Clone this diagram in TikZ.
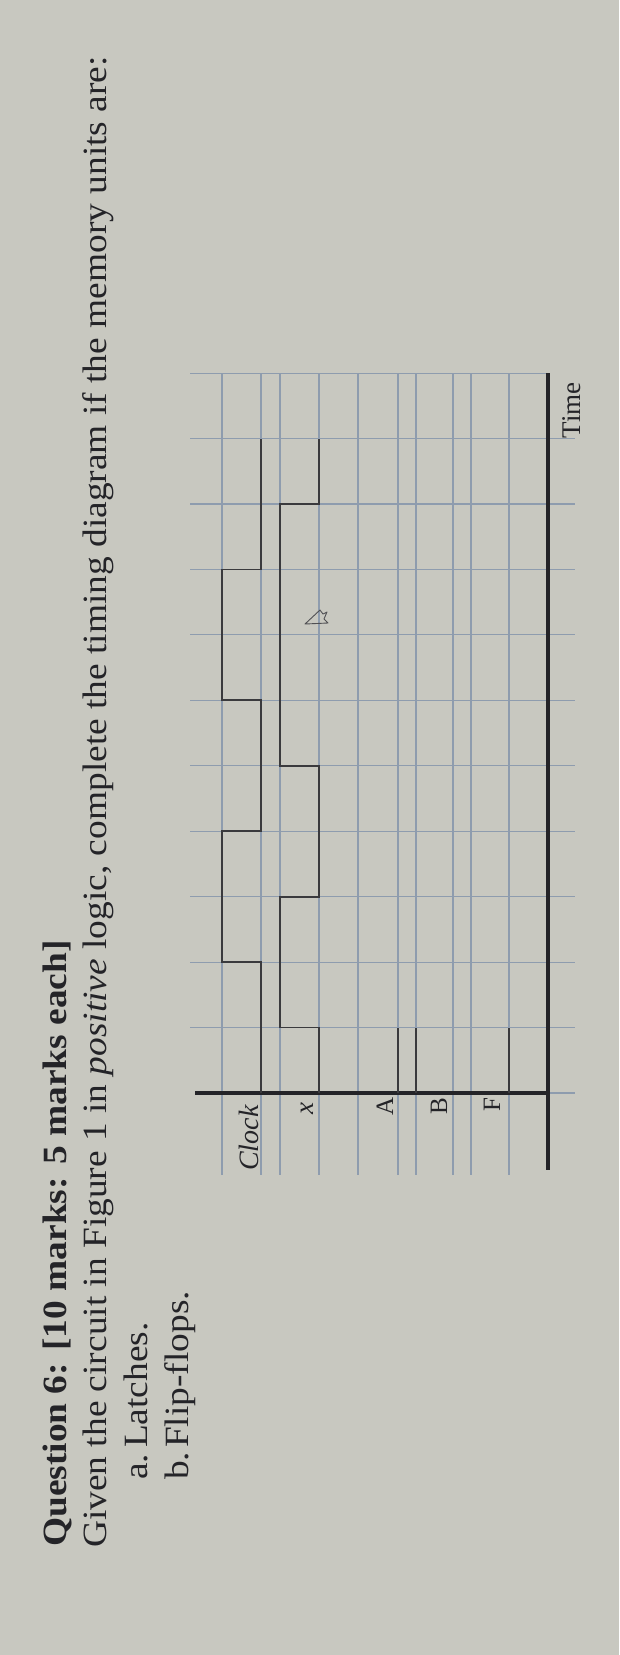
\documentclass[tikz,border=0pt]{standalone}
\usepackage{fontspec}
\setmainfont{Liberation Serif}
\usepackage{tikz}
\usetikzlibrary{positioning}

\definecolor{paper}{RGB}{200,200,192}
\definecolor{gridblue}{RGB}{142,156,174}
\definecolor{ink}{RGB}{36,36,40}

\newcommand{\wide}[1]{\scalebox{1.1}[1]{#1}}

\begin{document}
\begin{tikzpicture}[x=1pt, y=-1pt,
    gridline/.style={gridblue, line width=1.1pt},
    wave/.style={ink!90, line width=1.8pt},
    axis/.style={ink, line width=4.5pt},
    txt/.style={inner sep=0pt, rotate=90, text=ink}]
  \fill[paper] (0,0) rectangle (619,1655);
  \useasboundingbox (0,0) rectangle (619,1655);

  % question text, page turned on its side
  \node[txt, anchor=base west, font=\fontsize{34}{40}\selectfont\bfseries]
    (qtitle) at (66,1547) {\wide{Question 6: [10 marks: 5 marks each]}};
  \node[txt, anchor=base west, font=\fontsize{34}{40}\selectfont]
    (qbody) at (106,1548) {\wide{Given the circuit in Figure 1 in \textit{positive} logic, complete the timing diagram if the memory units are:}};
  \node[txt, anchor=base west, font=\fontsize{34}{40}\selectfont]
    (qa) at (147,1480) {\wide{\makebox[29pt][l]{a.}Latches.}};
  \node[txt, anchor=base west, font=\fontsize{34}{40}\selectfont]
    (qb) at (188,1480) {\wide{\makebox[29pt][l]{b.}Flip-flops.}};

  % timing chart: y counts clock steps from the axis
  \begin{scope}[shift={(0,1093)}, y=65.45pt]
    % grid
    \foreach \k in {1,...,10}
      \draw[gridline] (190,\k) -- (575,\k);
    \draw[gridline] (190,11) -- (548,11);
    \draw[gridline] (548,0) -- (575,0);
    \foreach \r in {222,261,280,319,358,398,416,453,471,509}
      \draw[gridline] (\r,11) -- (\r,-1.25);

    % axes
    \draw[axis] (195,0) -- (548,0);
    \draw[axis] (548,11) -- (548,-1.18);
    \node[txt, anchor=base west, font=\fontsize{27}{30}\selectfont]
      (time) at (580,10) {Time};

    % signal names
    \node[txt, anchor=base east, font=\fontsize{28}{30}\selectfont]
      (clk) at (258,-0.18) {\textit{Clock}};
    \node[txt, anchor=base east, font=\fontsize{27}{30}\selectfont]
      (sx) at (313,-0.14) {\textit{x}};
    \node[txt, anchor=base east, font=\fontsize{25}{30}\selectfont]
      (sa) at (393,-0.07) {A};
    \node[txt, anchor=base east, font=\fontsize{25}{30}\selectfont]
      (sb) at (447,-0.07) {B};
    \node[txt, anchor=base east, font=\fontsize{25}{30}\selectfont]
      (sf) at (500,-0.07) {F};

    % Clock - two steps per level
    \draw[wave] (261,0) |- (222,2) |- (261,4) |- (222,6) |- (261,8) -- (261,10);
    % input x
    \draw[wave] (319,0) |- (280,1) |- (319,3) |- (280,5) |- (319,9) -- (319,10);
    % starting values of A, B, F
    \draw[wave] (398,0) -- (398,1);
    \draw[wave] (416,0) -- (416,1);
    \draw[wave] (509,0) -- (509,1);
  \end{scope}

  % mouse pointer left on the screen
  \draw[ink!80, line width=0.9pt, line join=round]
    (305,624) -- (320,610) -- (323,614) -- (327,612) -- (324,619) -- (328,623) -- cycle;
\end{tikzpicture}
\end{document}
